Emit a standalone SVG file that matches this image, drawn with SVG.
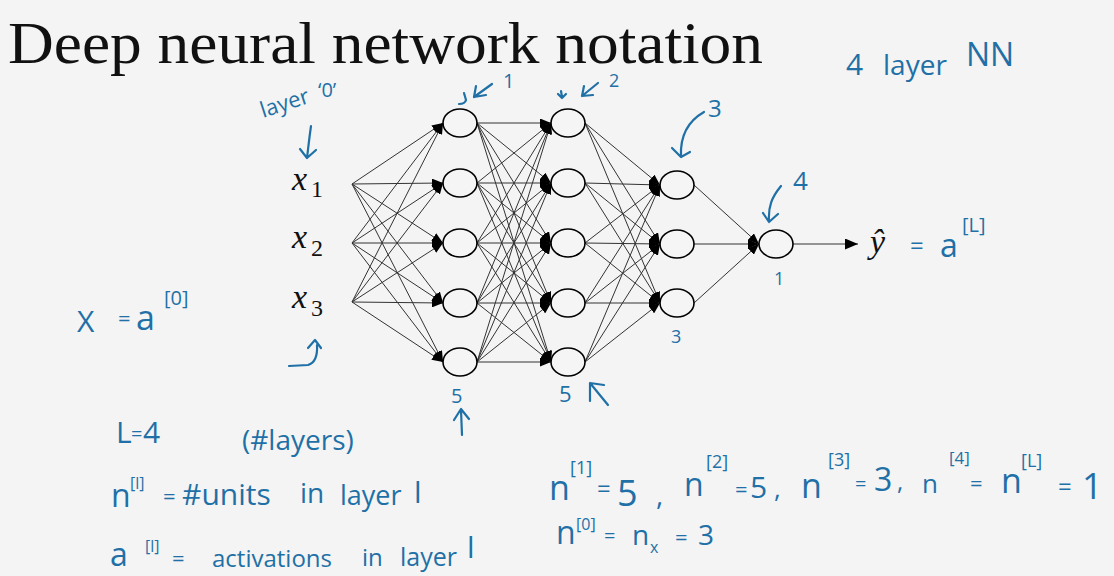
<svg xmlns="http://www.w3.org/2000/svg" width="1114" height="576" viewBox="0 0 1114 576">
<defs>
<style>
.hw{font-family:"Open Sans","DejaVu Sans",sans-serif;fill:#1f70a6}
.pen{fill:none;stroke:#1f70a6;stroke-width:2.2;stroke-linecap:round;stroke-linejoin:round}
.node ellipse{fill:#f5f5f5;stroke:#000;stroke-width:1.6}
.conn line{stroke:#333;stroke-width:1;marker-end:url(#ah)}
.math{font-family:"Liberation Serif","DejaVu Serif",serif;fill:#111}
</style>
<marker id="ah" markerWidth="11" markerHeight="9" refX="11" refY="4.5" orient="auto" markerUnits="userSpaceOnUse"><path d="M0,0 L11,4.5 L0,9 z" fill="#000"/></marker>
<marker id="ah2" markerWidth="13" markerHeight="11" refX="13" refY="5.5" orient="auto" markerUnits="userSpaceOnUse"><path d="M0,0 L13,5.5 L0,11 z" fill="#000"/></marker>
</defs>
<rect width="1114" height="576" fill="#f4f4f4"/>
<text x="8" y="63" font-size="60" textLength="755" lengthAdjust="spacingAndGlyphs" font-family="'Liberation Serif','DejaVu Serif',serif" fill="#111">Deep neural network notation</text>

<g id="connectors" class="conn">
<line x1="352" y1="184" x2="443" y2="123"/><line x1="352" y1="184" x2="443" y2="183"/><line x1="352" y1="184" x2="443" y2="243"/><line x1="352" y1="184" x2="443" y2="303"/><line x1="352" y1="184" x2="443" y2="362"/>
<line x1="352" y1="243" x2="443" y2="123"/><line x1="352" y1="243" x2="443" y2="183"/><line x1="352" y1="243" x2="443" y2="243"/><line x1="352" y1="243" x2="443" y2="303"/><line x1="352" y1="243" x2="443" y2="362"/>
<line x1="352" y1="302" x2="443" y2="123"/><line x1="352" y1="302" x2="443" y2="183"/><line x1="352" y1="302" x2="443" y2="243"/><line x1="352" y1="302" x2="443" y2="303"/><line x1="352" y1="302" x2="443" y2="362"/>

<line x1="477" y1="123" x2="551" y2="123"/><line x1="477" y1="123" x2="551" y2="183"/><line x1="477" y1="123" x2="551" y2="243"/><line x1="477" y1="123" x2="551" y2="303"/><line x1="477" y1="123" x2="551" y2="362"/>
<line x1="477" y1="183" x2="551" y2="123"/><line x1="477" y1="183" x2="551" y2="183"/><line x1="477" y1="183" x2="551" y2="243"/><line x1="477" y1="183" x2="551" y2="303"/><line x1="477" y1="183" x2="551" y2="362"/>
<line x1="477" y1="243" x2="551" y2="123"/><line x1="477" y1="243" x2="551" y2="183"/><line x1="477" y1="243" x2="551" y2="243"/><line x1="477" y1="243" x2="551" y2="303"/><line x1="477" y1="243" x2="551" y2="362"/>
<line x1="477" y1="303" x2="551" y2="123"/><line x1="477" y1="303" x2="551" y2="183"/><line x1="477" y1="303" x2="551" y2="243"/><line x1="477" y1="303" x2="551" y2="303"/><line x1="477" y1="303" x2="551" y2="362"/>
<line x1="477" y1="362" x2="551" y2="123"/><line x1="477" y1="362" x2="551" y2="183"/><line x1="477" y1="362" x2="551" y2="243"/><line x1="477" y1="362" x2="551" y2="303"/><line x1="477" y1="362" x2="551" y2="362"/>

<line x1="585" y1="123" x2="660" y2="185"/><line x1="585" y1="123" x2="660" y2="244"/><line x1="585" y1="123" x2="660" y2="303"/>
<line x1="585" y1="183" x2="660" y2="185"/><line x1="585" y1="183" x2="660" y2="244"/><line x1="585" y1="183" x2="660" y2="303"/>
<line x1="585" y1="243" x2="660" y2="185"/><line x1="585" y1="243" x2="660" y2="244"/><line x1="585" y1="243" x2="660" y2="303"/>
<line x1="585" y1="303" x2="660" y2="185"/><line x1="585" y1="303" x2="660" y2="244"/><line x1="585" y1="303" x2="660" y2="303"/>
<line x1="585" y1="362" x2="660" y2="185"/><line x1="585" y1="362" x2="660" y2="244"/><line x1="585" y1="362" x2="660" y2="303"/>

<line x1="694" y1="185" x2="759" y2="244"/><line x1="694" y1="244" x2="759" y2="244"/><line x1="694" y1="303" x2="759" y2="244"/>
<line x1="793" y1="244" x2="858" y2="244" style="marker-end:url(#ah2)"/>
</g>

<g id="inputs" class="math">
<g id="x1"><text x="292" y="190" font-size="34" font-style="italic">x</text><text x="311" y="197" font-size="24">1</text></g>
<g id="x2"><text x="292" y="248" font-size="34" font-style="italic">x</text><text x="311" y="256" font-size="24">2</text></g>
<g id="x3"><text x="292" y="308" font-size="34" font-style="italic">x</text><text x="311" y="316" font-size="24">3</text></g>
</g>

<g id="layer1" class="node">
<ellipse cx="460" cy="123" rx="17" ry="14"/><ellipse cx="460" cy="183" rx="17" ry="14"/><ellipse cx="460" cy="243" rx="17" ry="14"/><ellipse cx="460" cy="303" rx="17" ry="14"/><ellipse cx="460" cy="362" rx="17" ry="14"/>
</g>
<g id="layer2" class="node">
<ellipse cx="568" cy="123" rx="17" ry="14"/><ellipse cx="568" cy="183" rx="17" ry="14"/><ellipse cx="568" cy="243" rx="17" ry="14"/><ellipse cx="568" cy="303" rx="17" ry="14"/><ellipse cx="568" cy="362" rx="17" ry="14"/>
</g>
<g id="layer3" class="node">
<ellipse cx="677" cy="185" rx="17" ry="14"/><ellipse cx="677" cy="244" rx="17" ry="14"/><ellipse cx="677" cy="303" rx="17" ry="14"/>
</g>
<g id="layer4" class="node">
<ellipse cx="776" cy="244" rx="17" ry="14"/>
</g>
<g id="output" class="math">
<text x="870" y="253" font-size="34" font-style="italic">ŷ</text>
</g>

<g id="annotations">
<text class="hw" x="846" y="75" font-size="30">4</text>
<text class="hw" x="883" y="75" font-size="28">layer</text>
<text class="hw" x="966" y="66" font-size="32">NN</text>

<text class="hw" x="263" y="118" font-size="22" transform="rotate(-18 263 118)">layer</text>
<text class="hw" x="318" y="97" font-size="20">‘0’</text>
<path class="pen" d="M311,126 C309,140 308,150 307,158 M300,149 L307,158 L316,150"/>

<text class="hw" x="503" y="88" font-size="20">1</text>
<path class="pen" d="M492,84 L474,97 M474,97 L476,86 M474,97 L486,95"/>
<path class="pen" d="M464,93 L466,100 Q465,104 459,104"/>
<text class="hw" x="609" y="87" font-size="18">2</text>
<path class="pen" d="M598,83 L582,96 M582,96 L584,86 M582,96 L593,95"/>
<path class="pen" d="M561,91 L562,97 M558,94 L562,98 L566,94"/>
<text class="hw" x="708" y="117" font-size="24">3</text>
<path class="pen" d="M704,112 C690,120 680,133 681,156 M672,148 L681,157 L690,152"/>
<text class="hw" x="793" y="190" font-size="26">4</text>
<path class="pen" d="M781,186 C772,197 768,206 769,222 M763,213 L769,222 L778,214"/>

<text class="hw" x="451" y="403" font-size="20">5</text>
<path class="pen" d="M462,435 L461,410 M454,420 L461,409 L469,419"/>
<text class="hw" x="559" y="402" font-size="22">5</text>
<path class="pen" d="M608,405 L590,383 M590,383 L590,401 M590,383 L604,385"/>
<text class="hw" x="671" y="343" font-size="18">3</text>
<text class="hw" x="774" y="285" font-size="18">1</text>

<text class="hw" x="910" y="254" font-size="24">=</text>
<text class="hw" x="940" y="257" font-size="32">a</text>
<text class="hw" x="962" y="232" font-size="20">[L]</text>

<text class="hw" x="77" y="332" font-size="30">X</text>
<text class="hw" x="118" y="326" font-size="22">=</text>
<text class="hw" x="136" y="330" font-size="34">a</text>
<text class="hw" x="164" y="305" font-size="20">[0]</text>
<path class="pen" d="M289,366 L308,365 Q318,362 317,345 M308,348 L315,340 L321,348"/>

<text class="hw" x="116" y="443" font-size="30">L</text>
<text class="hw" x="131" y="441" font-size="20">=</text>
<text class="hw" x="143" y="443" font-size="30">4</text>
<text class="hw" x="242" y="450" font-size="28">(#layers)</text>

<text class="hw" x="111" y="507" font-size="32">n</text>
<text class="hw" x="130" y="489" font-size="16">[l]</text>
<text class="hw" x="163" y="504" font-size="22">=</text>
<text class="hw" x="182" y="505" font-size="30">#units</text>
<text class="hw" x="300" y="503" font-size="28">in</text>
<text class="hw" x="340" y="505" font-size="27">layer</text>
<text class="hw" x="414" y="503" font-size="30">l</text>

<text class="hw" x="110" y="566" font-size="32">a</text>
<text class="hw" x="145" y="552" font-size="16">[l]</text>
<text class="hw" x="172" y="566" font-size="22">=</text>
<text class="hw" x="212" y="567" font-size="24">activations</text>
<text class="hw" x="362" y="566" font-size="24">in</text>
<text class="hw" x="400" y="566" font-size="25">layer</text>
<text class="hw" x="467" y="558" font-size="30">l</text>

<text class="hw" x="549" y="500" font-size="34">n</text>
<text class="hw" x="570" y="474" font-size="18">[1]</text>
<text class="hw" x="597" y="497" font-size="24">=</text>
<text class="hw" x="617" y="506" font-size="36">5</text>
<text class="hw" x="656" y="505" font-size="28">,</text>
<text class="hw" x="684" y="496" font-size="32">n</text>
<text class="hw" x="706" y="468" font-size="18">[2]</text>
<text class="hw" x="735" y="497" font-size="22">=</text>
<text class="hw" x="750" y="498" font-size="30">5</text>
<text class="hw" x="774" y="498" font-size="26">,</text>
<text class="hw" x="801" y="498" font-size="34">n</text>
<text class="hw" x="828" y="466" font-size="18">[3]</text>
<text class="hw" x="855" y="491" font-size="20">=</text>
<text class="hw" x="874" y="491" font-size="32">3</text>
<text class="hw" x="897" y="490" font-size="24">,</text>
<text class="hw" x="922" y="493" font-size="26">n</text>
<text class="hw" x="949" y="464" font-size="17">[4]</text>
<text class="hw" x="970" y="491" font-size="22">=</text>
<text class="hw" x="1001" y="493" font-size="34">n</text>
<text class="hw" x="1021" y="467" font-size="18">[L]</text>
<text class="hw" x="1058" y="495" font-size="24">=</text>
<text class="hw" x="1082" y="499" font-size="36">1</text>

<text class="hw" x="556" y="544" font-size="32">n</text>
<text class="hw" x="576" y="530" font-size="16">[0]</text>
<text class="hw" x="604" y="543" font-size="20">=</text>
<text class="hw" x="632" y="545" font-size="28">n</text>
<text class="hw" x="650" y="553" font-size="16">x</text>
<text class="hw" x="675" y="545" font-size="22">=</text>
<text class="hw" x="698" y="545" font-size="28">3</text>
</g>
</svg>
